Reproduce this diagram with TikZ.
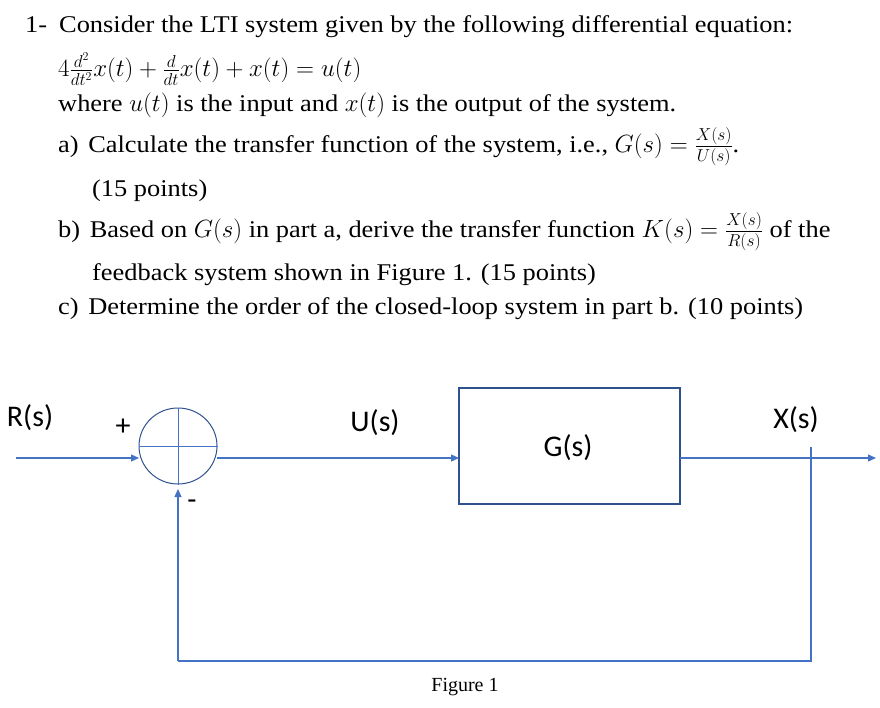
\documentclass[tikz,border=0pt]{standalone}
\usepackage{amsmath}
\usepackage{fontspec}
\setmainfont[FakeStretch=1.1]{Liberation Serif}
\newfontfamily\lab{Carlito}
\newfontfamily\figf{Liberation Serif}
\usetikzlibrary{arrows.meta,shapes.geometric}
\definecolor{bl}{HTML}{4472C4}
\definecolor{dbl}{HTML}{2F528F}
\begin{document}
\begin{tikzpicture}[x=1pt,y=-1pt,
  txt/.style={anchor=base west,inner sep=0pt,font=\fontsize{24}{28}\selectfont},
  lbl/.style={inner sep=0pt,font=\lab\fontsize{30}{34}\selectfont},
  wire/.style={draw=bl,line width=1.2pt},
  arr/.style={wire,-{Triangle[length=8pt,width=7pt]}}]
\useasboundingbox (0,0) rectangle (880,708);
\node[txt] (l1) at (25,33) {1-\hspace{0.5em}Consider the LTI system given by the following differential equation:};
\node[txt] (l2) at (58,77) {$4\frac{d^2}{dt^2}x(t)+\frac{d}{dt}x(t)+x(t)=u(t)$};
\node[txt] (l3) at (58,112) {where $u(t)$ is the input and $x(t)$ is the output of the system.};
\node[txt] (l4) at (58,153) {a)\hspace{0.4em}Calculate the transfer function of the system, i.e., $G(s)=\frac{X(s)}{U(s)}$.};
\node[txt] (l5) at (92,197) {(15 points)};
\node[txt] (l6) at (58,238) {b)\hspace{0.4em}Based on $G(s)$ in part a, derive the transfer function $K(s)=\frac{X(s)}{R(s)}$ of the};
\node[txt] (l7) at (92,281) {feedback system shown in Figure 1. (15 points)};
\node[txt] (l8) at (58,315) {c)\hspace{0.4em}Determine the order of the closed-loop system in part b. (10 points)};
% diagram
\node[draw=dbl,line width=1pt,ellipse,minimum width=78pt,minimum height=76pt,inner sep=0pt] (sum) at (178,446) {};
\draw[draw=bl,line width=1pt] (sum.north) -- (sum.south) (sum.west) -- (sum.east);
\node[draw=dbl,line width=1.2pt,minimum width=221pt,minimum height=116pt,inner sep=0pt] (G) at (569.5,446) {};
\node[lbl] (Gl) at (568,448) {G(s)};
\coordinate (in) at (16,458);
\coordinate (sin) at (139,458);
\coordinate (sout) at (217,458);
\coordinate (gin) at (459,458);
\coordinate (gout) at (680,458);
\coordinate (out) at (876,458);
\coordinate (tap) at (811,447);
\coordinate (br) at (811,661);
\coordinate (bl0) at (178,661);
\coordinate (fb) at (178,489);
\draw[arr] (in) -- (sin);
\draw[arr] (sout) -- (gin);
\draw[arr] (gout) -- (out);
\draw[wire] (tap) -- (br) -- (bl0);
\draw[arr] (bl0) -- (fb);
\node[lbl] (R) at (30,418) {R(s)};
\node[lbl] (plus) at (123,427) {+};
\node[lbl] (U) at (375,423) {U(s)};
\node[lbl] (X) at (796,420) {X(s)};
\node[lbl] (minus) at (192,505) {-};
\node[inner sep=0pt,font=\figf\fontsize{20}{24}\selectfont] (fig) at (465,687) {Figure 1};
\end{tikzpicture}
\end{document}
